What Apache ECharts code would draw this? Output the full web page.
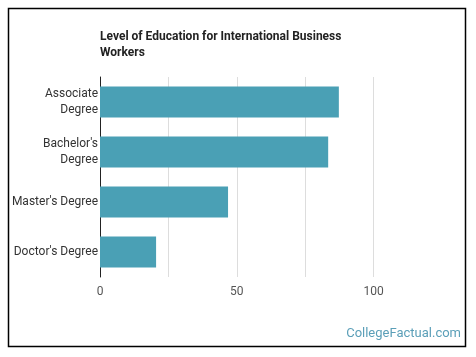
<!DOCTYPE html>
<html><head><meta charset="utf-8">
<script src="https://cdn.jsdelivr.net/npm/echarts@6/dist/echarts.min.js"></script>
<style>html,body{margin:0;padding:0;background:#fff}#c{width:476px;height:357px}</style>
</head><body><div id="c"></div>
<script>
const categories = ["Associate\nDegree", "Bachelor's\nDegree", "Master's Degree", "Doctor's Degree"];
const values = [87.3, 83.4, 46.8, 20.5];
const tickLabels = [0, 50, 100];
const titleText = "Level of Education for International Business\nWorkers";
const watermark = "CollegeFactual.com";

const chart = echarts.init(document.getElementById('c'), null, {renderer: 'canvas'});
chart.setOption({
  backgroundColor: '#fff',
  animation: false,
  title: {
    text: titleText, left: 95, top: 24,
    textStyle: {fontFamily: 'Roboto', fontSize: 12, fontWeight: 'bold', color: '#222', lineHeight: 16}
  },
  grid: {left: 100, right: 34, top: 77, bottom: 80, containLabel: false},
  xAxis: {
    type: 'value', min: 0, max: 125, interval: 25,
    axisLine: {show: false}, axisTick: {show: false},
    axisLabel: {
      fontFamily: 'Roboto', fontSize: 12, color: '#555', margin: 9,
      formatter: v => tickLabels.includes(v) ? String(v) : ''
    },
    splitLine: {show: true, lineStyle: {color: ['#ddd', '#ddd', '#ddd', '#ddd', '#ddd', 'rgba(0,0,0,0)'], width: 1}}
  },
  yAxis: {
    type: 'category', data: categories, inverse: true,
    axisLine: {show: true, lineStyle: {color: '#222', width: 1}},
    axisTick: {show: false},
    axisLabel: {fontFamily: 'Roboto', fontSize: 12, color: '#333', margin: 2, lineHeight: 16, align: 'right'}
  },
  series: [{
    type: 'bar', data: values, barWidth: '62%',
    itemStyle: {color: '#4aa0b5'},
    silent: true
  }],
  graphic: [
    {type: 'rect', shape: {x: 8.5, y: 8.5, width: 457, height: 338}, style: {fill: 'none', stroke: '#000', lineWidth: 1.5}, z: 100},
    {type: 'text', right: 15, top: 327, style: {text: watermark, fontFamily: 'Roboto', fontSize: 13, fill: '#5b9fb8'}}
  ]
});
</script></body></html>
